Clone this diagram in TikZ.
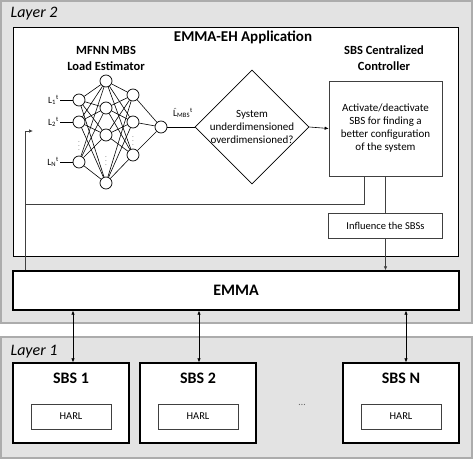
\documentclass[tikz,border=0pt]{standalone}
\usepackage{fontspec}
\setmainfont{Carlito}
\usetikzlibrary{shapes.geometric, arrows.meta}

\begin{document}
\begin{tikzpicture}[%
        x = 1pt, y = -1pt,
        layer/.style = {draw = gray!65, line width = 1.2pt, fill = gray!22},
        bigbox/.style = {draw = black, line width = 1.3pt, fill = white, inner sep = 0pt},
        smallbox/.style = {%
            draw = black!75, line width = 0.7pt, fill = white,
            font = \fontsize{10.5}{13}\selectfont
        },
        neuron/.style = {circle, draw, fill = white, line width = 0.7pt,
            minimum size = 12pt, inner sep = 0pt},
        nndots/.style = {font = \fontsize{7}{7}\selectfont, text = black!60, inner sep = 0pt},
        inlabel/.style = {font = \fontsize{9.5}{10}\selectfont, inner sep = 1pt},
        headtext/.style = {font = \bfseries\fontsize{12.5}{16}\selectfont, align = center},
        layertext/.style = {font = \itshape\fontsize{16}{16}\selectfont, anchor = west},
        arr/.style = {-{Latex[length = 4pt, width = 3.5pt]}},
        dblarr/.style = {{Latex[length = 4pt, width = 3.5pt]}-{Latex[length = 4pt, width = 3.5pt]}}
    ]

        \useasboundingbox (0,0) rectangle (474,460);

        % The two layers in the background.
        \draw[layer] (1,1) rectangle (472,323);
        \draw[layer] (1,337) rectangle (472,458);
        \node[layertext] (lay2) at (7,14) {Layer 2};
        \node[layertext] (lay1) at (7,352) {Layer 1};

        % Application box and EMMA.
        \node[bigbox, anchor = north west, minimum width = 445pt, minimum height = 229pt] (app) at (13,27) {};
        \node[font = \bfseries\fontsize{15}{15}\selectfont] (apptitle) at (243,37) {EMMA-EH Application};
        \node[bigbox, minimum width = 446pt, minimum height = 39pt,
            font = \bfseries\fontsize{16}{16}\selectfont] (emma) at (236,290.5) {EMMA};

        % Load estimator (the neural network).
        \node[headtext] (nntitle) at (106,58) {MFNN MBS\\Load Estimator};

        % Layers of neurons, given by their height.
        \foreach\y [count = \i] in {100, 122, 162}{%
            \node[neuron] (i\i) at (79,\y) {};
        }
        \foreach\y [count = \i] in {81, 108, 135, 183}{%
            \node[neuron] (h\i) at (106,\y) {};
        }
        \foreach\y [count = \i] in {95, 122, 155}{%
            \node[neuron] (g\i) at (133,\y) {};
        }
        \node[neuron] (o) at (161,127) {};

        % Every neuron is joined to each one of the next layer.
        \foreach\a in {1, 2, 3}{%
            \foreach\b in {1, ..., 4}{%
                \draw[line width = 0.6pt] (i\a) -- (h\b);
            }
        }
        \foreach\a in {1, ..., 4}{%
            \foreach\b in {1, 2, 3}{%
                \draw[line width = 0.6pt] (h\a) -- (g\b);
            }
        }
        \foreach\a in {1, 2, 3}{%
            \draw[line width = 0.6pt] (g\a) -- (o);
        }

        % Dots for the neurons that are left out.
        \node[nndots] (idots) at (79,143) {$\vdots$};
        \node[nndots] (hdots) at (106,158) {$\vdots$};
        \node[nndots] (gdots) at (133,138) {$\vdots$};

        % Inputs of the network.
        \node[inlabel, anchor = east] (l1) at (60,100) {L\textsubscript{1}\textsuperscript{t}};
        \node[inlabel, anchor = east] (l2) at (60,122) {L\textsubscript{2}\textsuperscript{t}};
        \node[inlabel, anchor = east] (ln) at (60,162) {L\textsubscript{N}\textsuperscript{t}};
        \draw[line width = 0.6pt] (l1) -- (i1);
        \draw[line width = 0.6pt] (l2) -- (i2);
        \draw[line width = 0.6pt] (ln) -- (i3);

        % Decision.
        \node[inlabel] (lmbs) at (183,113) {$\hat{\mbox{L}}$\textsubscript{MBS}\textsuperscript{t}};
        \node[diamond, draw, line width = 0.7pt, minimum width = 114pt, minimum height = 114pt,
            inner sep = 0pt] (dec) at (252,127) {};
        \node[align = center, font = \fontsize{11}{13}\selectfont] (dectext) at (dec)
            {System\\underdimensioned\\overdimensioned?};
        \draw[line width = 0.6pt] (o) -- (dec.west);

        % Centralized controller.
        \node[headtext] (ctrltitle) at (384,58) {SBS Centralized\\Controller};
        \node[smallbox, align = center, minimum width = 113pt, minimum height = 95pt,
            font = \fontsize{11}{13}\selectfont] (ctrl) at (385.5,128.5)
            {Activate/deactivate\\SBS for finding a\\better configuration\\of the system};
        \draw[arr, line width = 0.6pt] (dec.east) -- (ctrl.west);
        \node[smallbox, minimum width = 114pt, minimum height = 25pt] (infl) at (385.5,225.5)
            {Influence the SBSs};
        \draw[black!75, line width = 0.7pt] (ctrl.south) -- (infl.north);
        \draw[arr, black!75, line width = 0.7pt] (infl.south) -- (infl.south |- emma.north);

        % Feedback towards the inputs.
        \coordinate (fbR) at (364,204);
        \coordinate (fbL) at (25,204);
        \coordinate (nnin) at (33,131);
        \draw[black!75, line width = 0.7pt] (ctrl.south -| fbR) -- (fbR) -- (fbL);
        \draw[arr, black!75, line width = 0.7pt] (emma.north -| fbL) |- (nnin);

        % Small base stations.
        \foreach\name/\x/\label in {sbsa/71/SBS 1, sbsb/198/SBS 2, sbsn/401/SBS N}{%
            \node[bigbox, minimum width = 116pt, minimum height = 80pt] (\name) at (\x,403) {};
            \node[font = \bfseries\fontsize{16}{16}\selectfont] (\name t) at (\x,378) {\label};
            \node[smallbox, minimum width = 80pt, minimum height = 25pt] (\name h) at (\x,416.5) {HARL};
        }
        \node[font = \fontsize{10}{10}\selectfont, text = black!60] (sbsdots) at (302,405) {\dots};

        % Links between EMMA and the stations.
        \draw[dblarr, line width = 0.6pt] ([xshift = 2pt]sbsa.north) -- ([xshift = 2pt]sbsa.north |- emma.south);
        \draw[dblarr, line width = 0.6pt] ([xshift = 1pt]sbsb.north) -- ([xshift = 1pt]sbsb.north |- emma.south);
        \draw[dblarr, line width = 0.6pt] ([xshift = 5pt]sbsn.north) -- ([xshift = 5pt]sbsn.north |- emma.south);
    \end{tikzpicture}
\end{document}
